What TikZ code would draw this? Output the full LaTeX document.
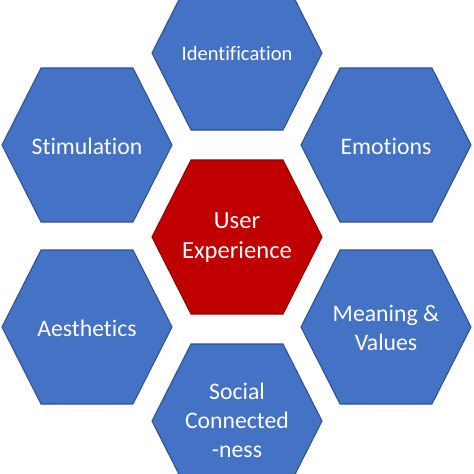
\documentclass[tikz,border=0pt]{standalone}
\usepackage{fontspec}
\setmainfont{Carlito}[Ligatures=NoCommon]
\usepackage{tikz}
\usetikzlibrary{positioning}
\definecolor{uxblue}{RGB}{68,114,196}
\definecolor{uxblueedge}{RGB}{47,82,143}
\definecolor{uxred}{RGB}{192,0,0}
\definecolor{uxrededge}{RGB}{140,0,0}
\tikzset{
    hexagon/.pic={\path[pic actions] (-85,0) -- (-46,-77) -- (46,-77) -- (85,0) -- (46,77) -- (-46,77) -- cycle;},
    hexcell/.style={fill=uxblue, draw=uxblueedge, line width=0.6pt},
    corecell/.style={fill=uxred, draw=uxrededge, line width=0.6pt},
    hexlabel/.style={text=white, font=\fontsize{13.5}{16.5}\selectfont, align=center}
}

\begin{document}
\begin{tikzpicture}[x=0.02cm,y=-0.02cm]
    \useasboundingbox (0,0) rectangle (474,474);
    \clip (0,0) rectangle (474,474);
    % honeycomb cells
    \foreach \cx/\cy in {237/53, 87/145, 386/145, 87/327, 386/327, 237/421} {
        \pic[hexcell] at (\cx,\cy) {hexagon};
    }
    \pic[corecell] at (237,237) {hexagon};
    % labels
    \node[hexlabel, font=\fontsize{11.7}{14}\selectfont] (ident) at (237,53) {Identification};
    \node[hexlabel] (stim) at (87,146) {Stimulation};
    \node[hexlabel] (emo) at (386,146) {Emotions};
    \node[hexlabel, font=\fontsize{14}{17}\selectfont] (ux) at (237,238) {User\\Experience};
    \node[hexlabel] (aes) at (87,328) {Aesthetics};
    \node[hexlabel] (mean) at (386,328) {Meaning \&\\Values};
    \node[hexlabel] (social) at (237,420) {Social\\Connected\\-ness};
\end{tikzpicture}
\end{document}
